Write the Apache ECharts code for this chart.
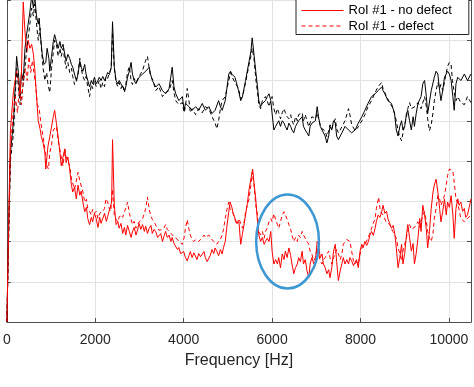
<!DOCTYPE html>
<html><head><meta charset="utf-8">
<script src="https://cdn.jsdelivr.net/npm/echarts@6/dist/echarts.min.js"></script>
<style>html,body{margin:0;padding:0;background:#fff}#c{width:474px;height:387px}</style>
</head><body><div id="c"></div><script>
// [frequency Hz, level] points
const legendNames = ['RoI #1 - no defect', 'RoI #1 - defect'];
const xTicks = {min: 0, max: 10500, interval: 2000};
const yTicks = {min: 0, max: 8, interval: 1};

const redSolid = [[0,0],[40,2.5],[80,4.77],[150,5.75],[220,6.23],[260,6.0],[300,5.67],[330,6.23],[370,7.95],[410,7.2],[450,6.7],[480,7.0],[520,6.8],[560,6.9],[600,6.65],[630,6.3],[670,5.6],[710,5.0],[750,4.8],[780,4.6],[820,4.45],[860,4.2],[880,3.8],[930,4.37],[970,4.6],[1010,4.85],[1050,5.1],[1080,5.26],[1120,4.94],[1160,4.6],[1200,4.2],[1230,3.88],[1270,4.1],[1310,4.3],[1340,3.96],[1380,4.1],[1420,3.8],[1460,3.4],[1490,3.23],[1530,3.35],[1570,3.06],[1610,3.4],[1650,3.15],[1680,3.25],[1720,2.98],[1760,2.74],[1800,2.85],[1830,2.57],[1870,2.42],[1910,2.6],[1940,2.49],[1980,2.7],[2020,2.57],[2060,2.35],[2100,2.6],[2130,2.45],[2170,2.49],[2210,2.7],[2250,2.5],[2280,2.62],[2320,2.66],[2370,2.98],[2390,4.53],[2430,2.9],[2470,2.42],[2510,2.5],[2540,2.33],[2580,2.45],[2620,2.2],[2660,2.35],[2690,2.16],[2730,2.4],[2770,2.25],[2810,2.1],[2840,2.24],[2880,2.35],[2920,2.16],[2960,2.3],[2990,2.45],[3030,2.3],[3070,2.42],[3110,2.25],[3140,2.38],[3180,2.2],[3220,2.33],[3260,2.4],[3290,2.2],[3330,2.3],[3370,2.24],[3410,2.1],[3440,2.08],[3480,2.2],[3520,2.0],[3560,2.15],[3590,2.25],[3630,2.1],[3670,2.16],[3710,2.0],[3740,2.1],[3780,1.95],[3820,1.93],[3860,1.8],[3890,1.85],[3930,1.7],[3970,1.69],[4000,1.75],[4040,1.6],[4080,1.52],[4120,1.65],[4150,1.75],[4190,1.6],[4230,1.72],[4270,1.69],[4300,1.55],[4340,1.7],[4380,1.62],[4420,1.69],[4460,1.75],[4490,1.6],[4530,1.5],[4570,1.52],[4600,1.65],[4640,1.8],[4680,1.7],[4710,1.84],[4750,1.75],[4790,1.65],[4830,1.8],[4870,1.69],[4900,1.85],[4940,2.0],[4980,2.4],[5020,2.74],[5050,2.98],[5090,2.85],[5120,2.7],[5160,2.66],[5200,2.45],[5250,2.49],[5290,1.93],[5330,2.2],[5370,2.45],[5400,2.66],[5440,2.95],[5480,3.3],[5520,3.55],[5560,3.8],[5590,3.47],[5630,3.06],[5670,2.49],[5700,2.16],[5740,2.0],[5780,2.1],[5820,1.93],[5850,2.0],[5890,2.08],[5930,2.0],[5970,2.25],[6000,1.76],[6040,1.44],[6080,1.55],[6120,1.44],[6150,1.6],[6190,1.35],[6230,1.69],[6270,1.55],[6300,1.76],[6340,1.6],[6380,1.84],[6420,1.65],[6450,1.44],[6490,1.2],[6530,1.35],[6570,1.44],[6600,1.6],[6640,1.5],[6680,1.76],[6710,1.44],[6750,1.55],[6790,1.27],[6830,1.1],[6860,1.44],[6900,1.6],[6940,1.45],[6980,1.52],[7020,2.0],[7050,1.93],[7090,1.6],[7130,1.69],[7160,1.44],[7200,1.35],[7240,1.2],[7280,1.3],[7310,1.1],[7350,1.35],[7390,1.76],[7430,1.93],[7460,1.5],[7500,1.03],[7540,1.27],[7580,1.45],[7610,1.6],[7650,1.44],[7690,1.55],[7730,1.44],[7760,1.6],[7800,1.52],[7840,1.4],[7880,1.44],[7910,1.55],[7950,1.35],[7990,1.76],[8030,1.93],[8060,1.85],[8100,2.0],[8140,1.9],[8180,2.0],[8210,2.15],[8250,2.25],[8290,2.15],[8330,2.33],[8360,2.5],[8400,2.66],[8440,2.6],[8480,2.74],[8510,2.9],[8550,2.7],[8590,2.75],[8620,2.57],[8660,2.45],[8700,2.33],[8740,2.4],[8780,2.16],[8810,1.84],[8850,1.35],[8890,1.6],[8930,1.93],[8960,1.44],[9000,1.7],[9040,2.16],[9070,2.42],[9110,2.1],[9150,1.76],[9190,1.95],[9220,1.44],[9260,1.7],[9300,2.08],[9340,2.57],[9370,2.25],[9410,2.9],[9450,2.66],[9490,2.3],[9520,1.84],[9560,2.25],[9600,2.82],[9640,3.23],[9670,3.4],[9710,3.55],[9750,3.23],[9790,2.82],[9820,2.49],[9860,2.74],[9900,3.06],[9940,2.66],[9970,2.98],[10010,2.85],[10050,3.14],[10090,2.66],[10120,2.08],[10160,2.82],[10200,3.06],[10230,2.9],[10270,2.98],[10310,2.75],[10350,2.82],[10380,2.6],[10420,2.66],[10460,2.85],[10500,3.06]];

const redDashed = [[0,0],[40,2.2],[80,4.3],[150,5.3],[190,5.6],[240,5.2],[280,5.8],[330,5.4],[370,6.0],[420,6.3],[460,6.0],[500,6.6],[540,6.2],[580,6.5],[610,6.2],[650,5.9],[690,5.4],[730,5.3],[770,4.94],[820,4.6],[860,4.3],[900,3.9],[940,3.8],[970,4.2],[1010,4.4],[1050,4.77],[1120,4.86],[1160,4.5],[1230,4.1],[1270,3.88],[1310,4.3],[1340,4.1],[1380,4.0],[1420,3.88],[1460,3.55],[1530,3.3],[1570,3.5],[1610,3.72],[1650,3.5],[1720,3.23],[1760,2.98],[1800,3.05],[1830,2.82],[1870,2.75],[1910,2.66],[1940,2.8],[1980,2.7],[2020,2.75],[2060,2.57],[2100,2.7],[2130,2.66],[2170,2.75],[2210,2.82],[2240,3.06],[2280,2.98],[2320,2.8],[2350,2.75],[2390,3.3],[2430,2.65],[2470,2.55],[2510,2.49],[2540,2.6],[2580,2.66],[2620,2.6],[2660,2.74],[2700,2.85],[2730,2.98],[2770,2.7],[2810,2.55],[2840,2.42],[2880,2.5],[2920,2.33],[2960,2.4],[2990,2.49],[3030,2.45],[3070,2.57],[3110,2.7],[3140,2.82],[3180,3.1],[3220,2.8],[3250,2.66],[3290,2.55],[3330,2.49],[3370,2.4],[3410,2.33],[3440,2.28],[3480,2.24],[3520,2.3],[3560,2.35],[3590,2.42],[3630,2.3],[3670,2.3],[3710,2.2],[3740,2.16],[3780,2.12],[3820,2.08],[3860,2.05],[3890,2.0],[3930,1.96],[3970,1.93],[4010,2.1],[4040,2.33],[4080,2.54],[4120,2.3],[4150,2.16],[4190,2.05],[4230,2.0],[4270,2.05],[4300,2.08],[4340,2.0],[4380,2.05],[4420,2.1],[4460,2.16],[4490,2.1],[4530,2.08],[4570,2.16],[4600,2.1],[4640,2.08],[4680,2.0],[4710,1.98],[4750,1.93],[4790,2.0],[4830,2.05],[4870,2.16],[4900,2.3],[4940,2.57],[4980,2.8],[5020,2.98],[5050,2.82],[5090,2.75],[5130,2.66],[5160,2.55],[5200,2.42],[5250,2.57],[5290,2.45],[5330,2.33],[5370,2.5],[5400,2.74],[5440,2.9],[5480,3.06],[5520,3.4],[5550,3.72],[5590,3.4],[5630,2.9],[5670,2.66],[5700,2.25],[5740,2.16],[5780,2.25],[5820,2.08],[5850,2.25],[5890,2.33],[5930,2.49],[5970,2.57],[6000,2.49],[6040,2.69],[6080,2.55],[6120,2.42],[6150,2.33],[6190,2.49],[6230,2.66],[6270,2.74],[6300,2.66],[6340,2.55],[6380,2.42],[6420,2.3],[6450,2.16],[6490,2.0],[6530,2.1],[6570,2.0],[6600,2.16],[6640,2.1],[6680,2.25],[6710,2.16],[6750,2.2],[6790,2.0],[6830,1.93],[6860,1.76],[6900,1.69],[6940,1.52],[6980,1.6],[7020,1.84],[7050,1.7],[7090,1.52],[7130,1.44],[7160,1.55],[7200,1.6],[7240,1.69],[7280,1.76],[7310,1.6],[7350,1.44],[7390,1.6],[7430,1.7],[7460,1.8],[7500,1.69],[7540,1.55],[7580,1.69],[7610,1.93],[7650,2.0],[7690,2.05],[7730,2.08],[7760,2.0],[7800,1.76],[7840,1.52],[7880,1.44],[7910,1.5],[7950,1.44],[7990,1.69],[8030,1.84],[8100,1.93],[8170,2.08],[8250,2.33],[8330,2.57],[8360,2.82],[8410,3.1],[8450,2.74],[8510,2.66],[8580,2.49],[8660,2.42],[8730,2.25],[8810,2.08],[8850,1.84],[8890,1.7],[8930,1.52],[8960,1.75],[9000,1.93],[9040,2.1],[9070,2.25],[9110,2.42],[9150,2.3],[9220,2.35],[9300,2.49],[9340,2.35],[9370,2.49],[9410,2.66],[9450,2.74],[9490,2.49],[9520,2.25],[9560,2.08],[9600,2.0],[9640,2.2],[9670,2.57],[9710,2.82],[9750,3.14],[9790,3.06],[9820,2.9],[9860,2.9],[9900,3.14],[9940,3.4],[9970,3.64],[10010,3.8],[10050,3.84],[10090,3.75],[10120,3.47],[10160,3.06],[10200,2.95],[10240,2.74],[10270,2.57],[10350,2.49],[10420,2.57],[10500,2.66]];

const blackSolid = [[0,0],[40,2.3],[80,4.2],[150,5.0],[220,6.6],[260,6.2],[300,5.6],[330,6.2],[370,6.0],[410,6.8],[440,7.1],[480,7.4],[520,7.7],[560,8.1],[600,7.8],[630,8.1],[670,7.6],[710,7.4],[730,7.55],[760,7.1],[800,6.65],[840,6.4],[880,6.45],[910,6.8],[950,6.55],[970,6.23],[1010,6.6],[1050,6.97],[1080,7.14],[1120,6.97],[1160,6.8],[1200,6.97],[1230,6.8],[1270,6.9],[1310,6.65],[1340,6.48],[1380,6.65],[1420,6.55],[1460,6.4],[1490,6.33],[1530,6.16],[1570,6.0],[1610,6.16],[1650,6.48],[1680,6.33],[1720,6.23],[1760,6.4],[1790,6.16],[1830,6.0],[1870,5.84],[1910,6.0],[1940,5.92],[1980,6.08],[2020,5.92],[2060,6.0],[2090,6.08],[2130,6.0],[2170,6.1],[2210,6.0],[2240,6.08],[2280,6.2],[2320,6.15],[2360,6.33],[2390,7.46],[2430,6.33],[2470,6.0],[2510,5.92],[2540,6.0],[2580,5.92],[2620,5.84],[2660,5.75],[2690,5.84],[2730,6.08],[2770,6.23],[2810,6.45],[2840,6.16],[2880,6.0],[2920,5.92],[2990,6.08],[3070,6.16],[3140,6.23],[3220,6.33],[3250,6.16],[3290,6.0],[3370,5.84],[3440,5.92],[3520,5.75],[3590,5.67],[3670,5.8],[3740,6.33],[3780,5.84],[3820,5.67],[3890,5.5],[3970,5.6],[4010,5.26],[4040,5.43],[4120,5.35],[4190,5.26],[4270,5.35],[4340,5.26],[4420,5.43],[4490,5.26],[4570,5.35],[4640,5.18],[4710,5.26],[4790,5.5],[4830,5.35],[4870,5.26],[4940,5.5],[5020,6.16],[5060,6.23],[5090,6.16],[5160,6.08],[5240,5.75],[5290,5.5],[5330,5.6],[5400,6.0],[5480,6.48],[5520,6.72],[5550,7.06],[5590,6.65],[5630,6.23],[5670,5.84],[5700,5.5],[5740,5.35],[5780,5.43],[5850,5.5],[5890,5.6],[5930,5.67],[5970,5.5],[6000,5.18],[6040,4.77],[6080,4.86],[6120,4.94],[6150,5.0],[6190,4.86],[6230,5.0],[6270,4.94],[6300,4.86],[6340,4.77],[6380,4.94],[6420,4.86],[6450,4.77],[6490,4.7],[6530,4.86],[6600,5.0],[6680,5.1],[6710,4.86],[6750,4.77],[6790,4.7],[6830,4.62],[6860,4.86],[6900,4.94],[6980,5.0],[7020,5.35],[7050,5.1],[7090,4.86],[7130,4.77],[7200,4.62],[7240,4.45],[7280,4.62],[7310,4.86],[7350,4.77],[7390,5.0],[7430,4.94],[7460,4.62],[7500,4.53],[7580,4.7],[7650,4.86],[7730,4.77],[7800,4.7],[7880,4.77],[7950,4.94],[8030,5.1],[8100,5.26],[8170,5.43],[8250,5.6],[8330,5.67],[8400,5.75],[8480,5.84],[8510,5.75],[8550,5.67],[8620,5.5],[8700,5.43],[8770,5.18],[8810,4.77],[8850,4.62],[8890,4.86],[8930,5.0],[8960,4.77],[9000,4.86],[9040,5.18],[9070,5.26],[9110,5.0],[9150,4.77],[9190,5.1],[9220,4.86],[9260,5.18],[9300,5.43],[9370,5.6],[9410,5.92],[9450,6.0],[9490,5.6],[9520,5.18],[9600,5.75],[9670,6.08],[9710,6.23],[9750,6.16],[9790,5.75],[9820,5.5],[9860,5.75],[9900,6.08],[9970,6.23],[10010,6.16],[10050,6.0],[10090,5.6],[10120,5.26],[10160,5.92],[10200,6.08],[10270,6.0],[10350,6.16],[10420,6.0],[10500,6.16]];

const blackDashed = [[0,0],[40,2.1],[80,4.0],[150,4.7],[220,6.3],[300,5.4],[370,5.9],[450,6.8],[520,7.4],[560,7.8],[600,7.6],[630,7.9],[670,7.4],[710,7.0],[750,7.3],[780,6.8],[820,6.3],[860,6.0],[900,6.2],[930,5.9],[970,5.7],[1010,6.3],[1050,6.7],[1080,7.0],[1120,6.9],[1160,6.6],[1200,6.8],[1230,6.6],[1270,6.8],[1310,6.5],[1340,6.3],[1380,6.45],[1420,6.2],[1460,6.3],[1490,6.1],[1530,5.9],[1570,5.95],[1610,6.2],[1650,6.55],[1680,6.3],[1720,6.1],[1760,6.0],[1790,6.1],[1830,5.85],[1870,5.6],[1910,5.9],[1940,5.8],[1980,6.0],[2020,5.85],[2060,5.9],[2090,6.0],[2130,5.8],[2170,5.95],[2210,5.85],[2240,6.1],[2280,6.05],[2320,6.2],[2360,6.3],[2390,7.2],[2430,6.3],[2470,5.95],[2510,5.85],[2540,5.95],[2580,5.8],[2620,5.9],[2660,5.7],[2690,5.9],[2730,6.2],[2770,6.35],[2810,6.0],[2840,5.9],[2880,6.05],[2920,5.95],[2990,6.1],[3070,6.25],[3140,6.5],[3180,6.6],[3220,6.3],[3250,6.1],[3290,6.05],[3370,5.75],[3440,5.85],[3520,5.6],[3590,5.7],[3670,5.75],[3740,6.0],[3780,5.7],[3820,5.5],[3890,5.4],[3970,5.45],[4010,5.2],[4040,5.35],[4080,5.8],[4120,5.5],[4150,5.2],[4190,5.3],[4270,5.15],[4340,5.3],[4420,5.2],[4490,5.35],[4570,5.3],[4640,5.1],[4710,4.95],[4750,4.8],[4790,5.0],[4830,5.3],[4870,5.5],[4940,5.6],[5020,6.0],[5060,6.2],[5090,6.1],[5160,5.95],[5240,5.8],[5290,5.55],[5330,5.6],[5400,5.95],[5480,6.4],[5520,6.6],[5550,6.8],[5590,6.55],[5630,6.05],[5670,5.7],[5700,5.4],[5740,5.3],[5780,5.5],[5850,5.6],[5890,5.5],[5930,5.35],[5970,5.5],[6000,5.6],[6040,5.3],[6080,5.15],[6120,5.3],[6150,5.2],[6190,5.05],[6230,5.2],[6270,5.3],[6300,5.2],[6340,5.1],[6380,5.05],[6420,5.15],[6450,5.0],[6490,4.9],[6530,5.1],[6570,5.0],[6600,5.15],[6680,5.2],[6710,5.0],[6750,5.15],[6790,5.0],[6830,4.85],[6860,4.95],[6900,5.1],[6980,5.05],[7020,5.2],[7050,5.05],[7090,4.9],[7130,4.8],[7200,4.75],[7240,4.6],[7280,4.75],[7310,4.9],[7350,4.8],[7390,4.95],[7430,5.05],[7460,4.8],[7500,4.7],[7580,4.85],[7650,5.0],[7730,5.3],[7760,5.15],[7800,4.9],[7880,4.75],[7950,4.85],[8030,5.0],[8100,5.15],[8170,5.35],[8250,5.5],[8330,5.7],[8400,5.85],[8480,5.95],[8510,5.8],[8590,5.6],[8660,5.45],[8740,5.3],[8810,5.0],[8850,4.75],[8890,4.6],[8930,4.5],[8960,4.7],[9000,4.9],[9040,5.1],[9070,5.3],[9110,5.45],[9150,5.3],[9230,5.35],[9300,5.45],[9370,5.3],[9410,5.45],[9450,5.6],[9490,5.35],[9520,5.05],[9560,4.75],[9600,4.9],[9640,5.2],[9670,5.5],[9710,5.75],[9750,5.95],[9790,5.8],[9820,5.9],[9860,5.75],[9900,5.95],[9930,6.15],[9970,6.35],[10010,6.45],[10050,6.4],[10080,6.0],[10120,5.7],[10160,5.5],[10200,5.6],[10270,5.45],[10350,5.4],[10420,5.6],[10500,5.45]];

// highlighted region (annotation ellipse) in data units
const ellipseCenter = [6350, 2.0];
const ellipseRadius = [710, 1.17];

const FONT = '"Liberation Sans", Arial, Helvetica, sans-serif';
const AX = '#4d4d4d';

function lineSeries(name, data, color, dashed) {
  return {
    name: name, type: 'line', data: data, symbol: 'none', showSymbol: false,
    smooth: false, animation: false, z: dashed ? 3 : 2,
    lineStyle: {color: color, width: 1, type: dashed ? [4, 3] : 'solid'},
    itemStyle: {color: color},
    emphasis: {disabled: true}
  };
}

const chart = echarts.init(document.getElementById('c'), null, {renderer: 'canvas'});
chart.setOption({
  animation: false,
  backgroundColor: '#ffffff',
  grid: {left: 4, right: 3, top: -5, bottom: 65, containLabel: false},
  xAxis: {
    type: 'value', min: xTicks.min, max: xTicks.max, interval: xTicks.interval,
    name: 'Frequency [Hz]', nameLocation: 'middle', nameGap: 31,
    nameTextStyle: {fontSize: 16, color: '#262626', fontFamily: FONT},
    axisLine: {show: true, lineStyle: {color: AX, width: 1}},
    axisTick: {show: true, inside: true, length: 4, lineStyle: {color: AX}},
    axisLabel: {fontSize: 14, color: '#262626', fontFamily: FONT, margin: 11, showMaxLabel: false,
      formatter: function (v) { return String(v); }},
    splitLine: {show: true, lineStyle: {color: '#e2e2e2', width: 1}}
  },
  yAxis: [{
    type: 'value', min: yTicks.min, max: yTicks.max, interval: yTicks.interval,
    axisLine: {show: true, lineStyle: {color: AX, width: 1}},
    axisTick: {show: true, inside: true, length: 4, lineStyle: {color: AX}},
    axisLabel: {show: false},
    splitLine: {show: true, lineStyle: {color: '#e2e2e2', width: 1}}
  }, {
    type: 'value', position: 'right', min: yTicks.min, max: yTicks.max, interval: yTicks.interval,
    axisLine: {show: true, lineStyle: {color: AX, width: 1}},
    axisTick: {show: true, inside: true, length: 4, lineStyle: {color: AX}},
    axisLabel: {show: false},
    splitLine: {show: false}
  }],
  legend: {
    data: legendNames, orient: 'vertical', left: 296, top: -6,
    padding: [10, 17, 2, 5], itemWidth: 42, itemHeight: 14, itemGap: 2.5,
    backgroundColor: '#ffffff', borderColor: '#262626', borderWidth: 1, borderRadius: 0,
    itemStyle: {color: 'rgba(0,0,0,0)', borderWidth: 0, borderColor: 'rgba(0,0,0,0)'},
    lineStyle: {width: 1},
    textStyle: {fontSize: 13, color: '#000000', fontFamily: FONT},
    selectedMode: false, z: 20
  },
  series: [
    lineSeries('RoI #2 - no defect', blackSolid, '#000000', false),
    lineSeries('RoI #2 - defect', blackDashed, '#000000', true),
    lineSeries(legendNames[0], redSolid, '#ff0000', false),
    lineSeries(legendNames[1], redDashed, '#ff0000', true)
  ]
});

const pc = chart.convertToPixel({gridIndex: 0}, ellipseCenter);
const pe = chart.convertToPixel({gridIndex: 0}, [ellipseCenter[0] + ellipseRadius[0], ellipseCenter[1] + ellipseRadius[1]]);
chart.setOption({
  graphic: [{
    type: 'ellipse', z: 50,
    shape: {cx: pc[0], cy: pc[1], rx: Math.abs(pe[0] - pc[0]), ry: Math.abs(pc[1] - pe[1])},
    style: {fill: 'none', stroke: '#3d97d3', lineWidth: 2.5}
  }]
});
</script></body></html>
